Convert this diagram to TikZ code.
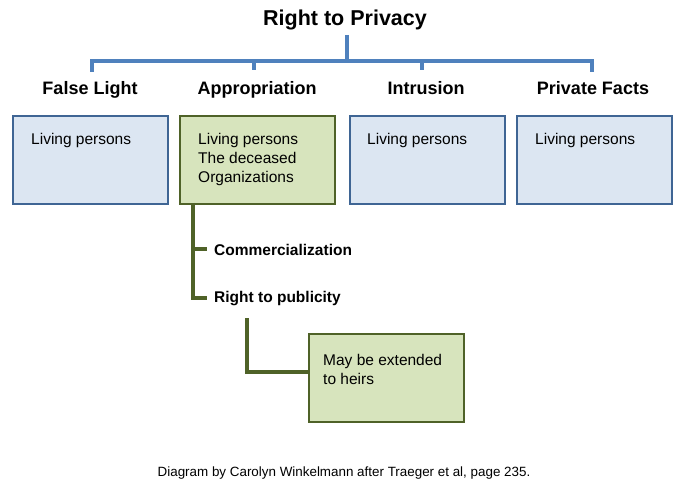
\documentclass[tikz,border=0pt]{standalone}
\usepackage{fontspec}
\setmainfont{Liberation Sans}
\definecolor{lineblue}{HTML}{4F81BD}
\definecolor{edgeblue}{HTML}{3F6594}
\definecolor{fillblue}{HTML}{DCE6F2}
\definecolor{edgegreen}{HTML}{4F6228}
\definecolor{fillgreen}{HTML}{D7E4BD}
\tikzset{
  bluebox/.style={draw=edgeblue, fill=fillblue, line width=1.6pt, minimum width=155pt, minimum height=88pt, anchor=north west, inner sep=0pt},
  greenbox/.style={draw=edgegreen, fill=fillgreen, line width=1.6pt, minimum width=155pt, minimum height=88pt, anchor=north west, inner sep=0pt},
  blueline/.style={draw=lineblue, line width=4pt},
  greenline/.style={draw=edgegreen, line width=4pt},
  head/.style={font=\fontsize{18}{20}\selectfont\bfseries, anchor=base, inner sep=0pt},
  body/.style={font=\fontsize{15.5}{19}\selectfont, anchor=base west, inner sep=0pt},
  sub/.style={font=\fontsize{15.5}{17}\selectfont\bfseries, anchor=base west, inner sep=0pt},
}
\begin{document}
\begin{tikzpicture}[x=1pt,y=-1pt]
\useasboundingbox (0,0) rectangle (682,486);
% title
\node[font=\fontsize{21.5}{24}\selectfont\bfseries, anchor=base, inner sep=0pt] (title) at (345,26) {Right to Privacy};
% blue tree
\coordinate (stemtop) at (347,35);
\coordinate (stembot) at (347,61);
\coordinate (barL) at (90,61);
\coordinate (barR) at (594,61);
\coordinate (t1) at (92,61);  \coordinate (t1b) at (92,72);
\coordinate (t2) at (254,61); \coordinate (t2b) at (254,70);
\coordinate (t3) at (422,61); \coordinate (t3b) at (422,70);
\coordinate (t4) at (592,61); \coordinate (t4b) at (592,72);
\draw[blueline] (stemtop) -- (stembot);
\draw[blueline] (barL) -- (barR);
\draw[blueline] (t1) -- (t1b);
\draw[blueline] (t2) -- (t2b);
\draw[blueline] (t3) -- (t3b);
\draw[blueline] (t4) -- (t4b);
% headers
\node[head] (h1) at (90,95) {False Light};
\node[head] (h2) at (257,95) {Appropriation};
\node[head] (h3) at (426,95) {Intrusion};
\node[head] (h4) at (593,95) {Private Facts};
% boxes
\node[bluebox] (b1) at (12,115) {};
\node[greenbox] (b2) at (179,115) {};
\node[bluebox] (b3) at (349,115) {};
\node[bluebox] (b4) at (516,115) {};
\node[body] (b1t) at (31,145) {Living persons};
\node[body] (b2t1) at (198,145) {Living persons};
\node[body] (b2t2) at (198,164) {The deceased};
\node[body] (b2t3) at (198,183) {Organizations};
\node[body] (b3t) at (367,145) {Living persons};
\node[body] (b4t) at (535,145) {Living persons};
% green tree
\coordinate (g0) at (193,203);
\coordinate (g1) at (193,249);
\coordinate (g2) at (193,298);
\coordinate (g1e) at (207,249);
\coordinate (g2e) at (207,298);
\draw[greenline] (g0) -- (g2) -- (g2e);
\draw[greenline] (g1) -- (g1e);
\node[sub] (comm) at (214,255) {Commercialization};
\node[sub] (pub) at (214,302) {Right to publicity};
\node[greenbox] (b5) at (308,333) {};
\node[body] (b5t1) at (323,365) {May be extended};
\node[body] (b5t2) at (323,384) {to heirs};
\coordinate (l0) at (247,318);
\coordinate (l1) at (247,372);
\draw[greenline] (l0) -- (l1) -- (l1 -| b5.west);
% caption
\node[font=\fontsize{13.4}{15}\selectfont, anchor=base, inner sep=0pt] (cap) at (344,476) {Diagram by Carolyn Winkelmann after Traeger et al, page 235.};
\end{tikzpicture}
\end{document}
